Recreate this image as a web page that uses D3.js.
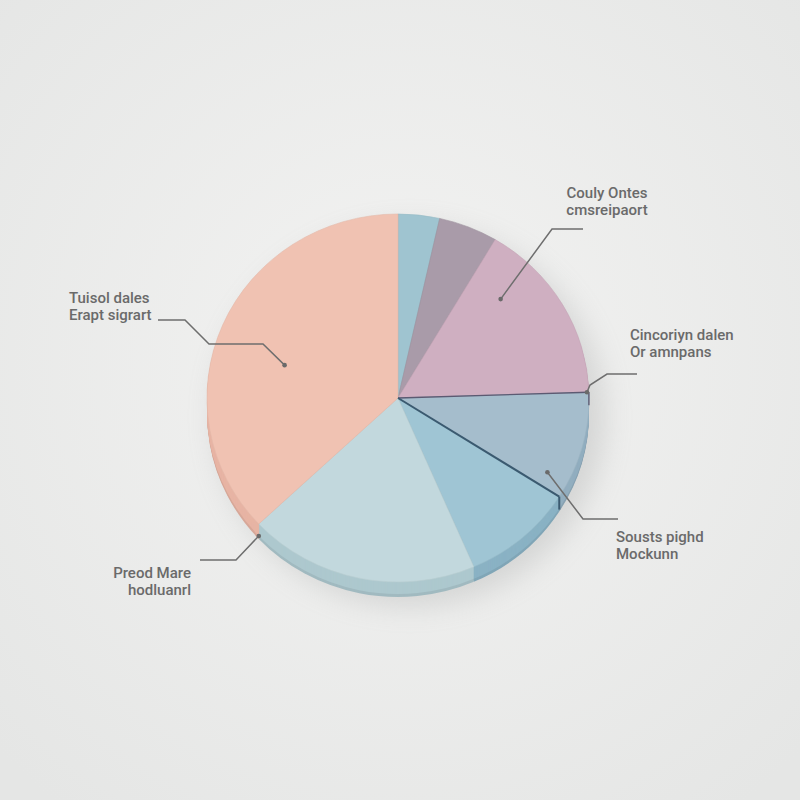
<!DOCTYPE html>
<html>
<head>
<meta charset="utf-8">
<script src="https://cdn.jsdelivr.net/npm/d3@7"></script>
<style>
  html, body { margin: 0; padding: 0; background: #ececeb; }
  svg { display: block; }
</style>
</head>
<body>
<script>
// slice data, clockwise from 12 o'clock
var slices = ['s1', 's2', 's3', 's4', 's5', 's6', 's7'];
var values = [3.5, 5, 16, 9.5, 9.5, 19.5, 37];
var topColors = ['#9fc4d0', '#a99ba9', '#cfafc1', '#a5bdcc', '#9fc5d4', '#c2d8dd', '#f0c2b2'];
var sideColors = ['#8db2bf', '#978a99', '#bf9db0', '#92aebf', '#8ab2c4', '#adc8ce', '#e7b4a4'];

// label text (two lines each)
var labelLine1 = ['Couly Ontes', 'Cincoriyn dalen', 'Tuisol dales', 'Preod Mare', 'Sousts pighd'];
var labelLine2 = ['cmsreipaort', 'Or amnpans', 'Erapt sigrart', 'hodluanrl', 'Mockunn'];

var width = 800, height = 800;
var cx = 398, cy = 398, rx = 191, ry = 184, depth = 15;

var svg = d3.select('body').append('svg')
  .attr('width', width).attr('height', height);

var defs = svg.append('defs');
var bg = defs.append('radialGradient').attr('id', 'bg')
  .attr('cx', '50%').attr('cy', '45%').attr('r', '70%');
bg.append('stop').attr('offset', '0%').attr('stop-color', '#f3f3f2');
bg.append('stop').attr('offset', '100%').attr('stop-color', '#e5e6e5');
defs.append('filter').attr('id', 'blur')
  .attr('x', '-30%').attr('y', '-30%').attr('width', '160%').attr('height', '160%')
  .append('feGaussianBlur').attr('stdDeviation', 14);

svg.append('rect').attr('width', width).attr('height', height).attr('fill', 'url(#bg)');

// soft shadow
svg.append('ellipse')
  .attr('cx', cx + 12).attr('cy', cy + 18)
  .attr('rx', rx + 4).attr('ry', ry + 6)
  .attr('fill', '#8a8c8c').attr('opacity', 0.25)
  .attr('filter', 'url(#blur)');

var pie = d3.pie().sort(null).value(function(d) { return d; });
var arcs = pie(values);
var arc = d3.arc().innerRadius(0).outerRadius(rx);
var sy = ry / rx;

// side of the disc: stacked layers
for (var d = depth; d > 0; d--) {
  var layer = svg.append('g')
    .attr('transform', 'translate(' + cx + ',' + (cy + d) + ') scale(1,' + sy + ')');
  layer.selectAll('path')
    .data(arcs)
    .enter()
    .append('path')
    .attr('d', arc)
    .attr('fill', function(a, i) {
      var c = d3.color(sideColors[i]);
      return d > depth - 3 ? c.darker(0.2) + '' : c + '';
    });
}

// top face
var face = svg.append('g')
  .attr('transform', 'translate(' + cx + ',' + cy + ') scale(1,' + sy + ')');
face.selectAll('path')
  .data(arcs)
  .enter()
  .append('path')
  .attr('d', arc)
  .attr('fill', function(a, i) { return topColors[i]; })
  .attr('stroke', function(a, i) { return d3.color(topColors[i]).darker(0.15) + ''; })
  .attr('stroke-width', 0.6);

// point on the ellipse for an angle (radians from 12 o'clock)
function pt(angle, frac) {
  return [cx + Math.sin(angle) * rx * frac, cy - Math.cos(angle) * ry * frac];
}

// darker dividers between pink/steel and steel/blue
var dividers = [
  { angle: arcs[3].startAngle, color: '#5c5a72', w: 1.4 },
  { angle: arcs[4].startAngle, color: '#3b5a70', w: 2 }
];
dividers.forEach(function(dv) {
  var e = pt(dv.angle, 1);
  svg.append('line')
    .attr('x1', cx).attr('y1', cy).attr('x2', e[0]).attr('y2', e[1])
    .attr('stroke', dv.color).attr('stroke-width', dv.w);
  svg.append('line')
    .attr('x1', e[0]).attr('y1', e[1]).attr('x2', e[0]).attr('y2', e[1] + depth - 2)
    .attr('stroke', dv.color).attr('stroke-width', dv.w);
});

// leader lines: dot position (slice angle fraction / radius fraction) + elbow points
var leaders = [
  { slice: 2, t: 0.25, r: 0.76, pts: [[552, 229], [583, 229]],
    tx: 607, ty: 198, anchor: 'middle' },
  { slice: 3, t: 0.0, r: 0.99, pts: [[590, 385], [607, 374], [637, 374]],
    tx: 630, ty: 340, anchor: 'start' },
  { slice: 6, t: 0.45, r: 0.62, pts: [[263, 344], [209, 344], [185, 320], [158, 320]],
    tx: 69, ty: 303, anchor: 'start' },
  { slice: 6, t: 0.0, r: 1.0, dy: 12, pts: [[236, 560], [200, 560]],
    tx: 191, ty: 578, anchor: 'end' },
  { slice: 3, t: 0.85, r: 0.88, pts: [[583, 519], [618, 519]],
    tx: 616, ty: 542, anchor: 'start' }
];

leaders.forEach(function(l, i) {
  var a = arcs[l.slice];
  var ang = a.startAngle + (a.endAngle - a.startAngle) * l.t;
  var p = pt(ang, l.r);
  p[1] += l.dy || 0;
  var line = [p].concat(l.pts);
  svg.append('path')
    .attr('d', d3.line()(line))
    .attr('fill', 'none')
    .attr('stroke', '#6e6e6e')
    .attr('stroke-width', 1.5);
  svg.append('circle')
    .attr('cx', p[0]).attr('cy', p[1]).attr('r', 2.3)
    .attr('fill', '#6a6a6a');

  var txt = svg.append('text')
    .attr('x', l.tx).attr('y', l.ty)
    .attr('text-anchor', l.anchor)
    .attr('font-family', 'Roboto, "Noto Sans", sans-serif')
    .attr('font-size', 15)
    .attr('font-weight', 500)
    .attr('fill', '#6a6a6a');
  txt.append('tspan').attr('x', l.tx).text(labelLine1[i]);
  txt.append('tspan').attr('x', l.tx).attr('dy', 16.5).text(labelLine2[i]);
});
</script>
</body>
</html>
